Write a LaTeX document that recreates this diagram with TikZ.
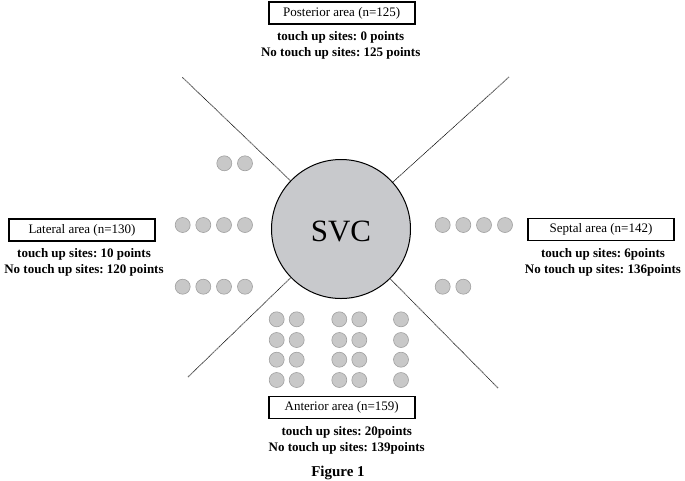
\documentclass[tikz,border=0pt]{standalone}
\usepackage{fontspec}
\setmainfont{Liberation Serif}
\frenchspacing
\usetikzlibrary{positioning}

\definecolor{sitegray}{RGB}{200,200,200}
\definecolor{siteedge}{RGB}{160,160,160}
\definecolor{svcgray}{RGB}{200,201,204}

\begin{document}
\begin{tikzpicture}[x=1pt, y=-1pt,
  areabox/.style={draw, line width=1.6pt, minimum width=146pt, minimum height=22pt,
    inner sep=0pt, font=\fontsize{13}{16}\selectfont},
  counts/.style={align=center, inner sep=0pt, font=\fontsize{13}{16}\selectfont\bfseries},
  site/.style={circle, draw=siteedge, fill=sitegray, line width=0.6pt,
    minimum size=15pt, inner sep=0pt},
  sector/.style={dash pattern=on 0.9pt off 0.6pt, line width=0.8pt, black!85}]
  \useasboundingbox (0,0) rectangle (685,480);

  % vessel in the middle
  \node[circle, draw, line width=1pt, fill=svcgray, minimum size=139pt, inner sep=0pt,
    text height=26pt, font=\fontsize{31}{31}\selectfont] (svc) at (341,229) {SVC};

  % sector borders
  \coordinate (ul) at (182,77);
  \coordinate (ur) at (509,77);
  \coordinate (ll) at (188,377);
  \coordinate (lr) at (498,388);
  \foreach \e in {ul, ur, ll, lr} {
      \draw[sector] (svc) -- (\e);
  };

  % area labels
  \node[areabox] (posterior) at (341.7,13) {Posterior area (n=125)};
  \node[areabox] (lateral) at (82,230) {Lateral area (n=130)};
  \node[areabox] (septal) at (601,229.5) {Septal area (n=142)};
  \node[areabox] (anterior) at (341.7,407.5) {Anterior area (n=159)};

  \node[counts, below=6.5pt of posterior, xshift=-1pt] (posterior-counts)
    {touch up sites: 0 points\\No touch up sites: 125 points};
  \node[counts, below=6.5pt of lateral, xshift=2pt] (lateral-counts)
    {touch up sites: 10 points\\No touch up sites: 120 points};
  \node[counts, below=6.5pt of septal, xshift=2pt] (septal-counts)
    {touch up sites: 6points\\No touch up sites: 136points};
  \node[counts, below=6.5pt of anterior, xshift=5pt] (anterior-counts)
    {touch up sites: 20points\\No touch up sites: 139points};

  % touch up sites
  \foreach \x in {224.3, 245} {
      \node[site] (lat-up-\x) at (\x,163.3) {};
  };
  \foreach \x in {182.7, 203.3, 224, 245} {
      \node[site] (lat-mid-\x) at (\x,225) {};
      \node[site] (lat-low-\x) at (\x,286.7) {};
  };
  \foreach \x in {442.7, 463.3, 484, 505} {
      \node[site] (sep-mid-\x) at (\x,225) {};
  };
  \foreach \x in {442.7, 463.3} {
      \node[site] (sep-low-\x) at (\x,286.7) {};
  };
  \foreach \x in {276.7, 296.7, 339.3, 359.3, 401} {
    \foreach \y in {319.3, 340, 359.7, 380} {
        \node[site] (ant-\x-\y) at (\x,\y) {};
    };
  };

  \node[font=\fontsize{15}{15}\selectfont\bfseries, anchor=base] (caption) at (338,476) {Figure 1};
\end{tikzpicture}
\end{document}
